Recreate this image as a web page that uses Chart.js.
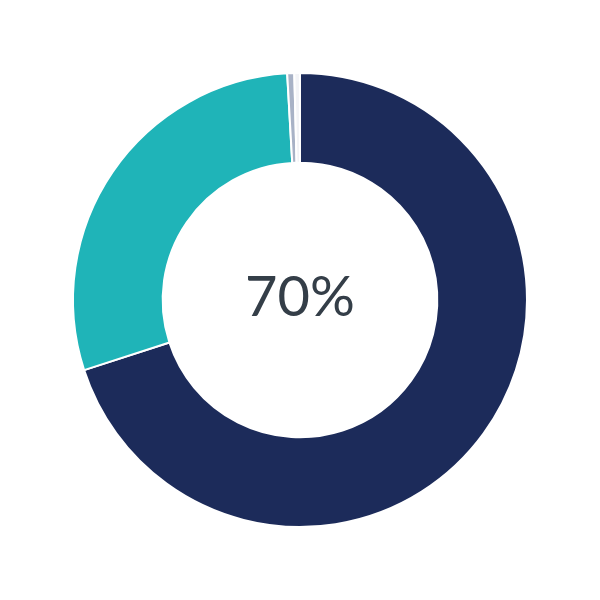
<!DOCTYPE html>
<html>
<head>
<meta charset="utf-8">
<script src="https://cdn.jsdelivr.net/npm/chart.js@4.4.0/dist/chart.umd.min.js"></script>
<style>
  html, body { margin:0; padding:0; background:#fff; }
  #wrap { position:relative; width:600px; height:600px; }
  #center { position:absolute; left:0; top:-6px; width:600px; height:600px; display:flex; align-items:center; justify-content:center;
    font-family:Lato, "Open Sans", sans-serif; font-weight:400; font-size:56px; color:#343e48; pointer-events:none; }
</style>
</head>
<body>
<div id="wrap">
  <canvas id="donut" width="600" height="600"></canvas>
  <div id="center">70%</div>
</div>
<script>
// ===== Data =====
const labels = ['Main', 'Second', 'Other', 'Rest'];
const values = [70, 29.1, 0.5, 0.4];
const colors = ['#1c2b5a', '#1fb4b8', '#a8b2c6', '#f3f4f7'];

const ctx = document.getElementById('donut').getContext('2d');
new Chart(ctx, {
  type:'doughnut',
  data:{
    labels:labels,
    datasets:[{data:values, backgroundColor:colors, borderColor:'#fff', borderWidth:2}]
  },
  options:{
    responsive:false,
    animation:false,
    cutout:'60.5%',
    layout:{padding:72},
    plugins:{legend:{display:false}, tooltip:{enabled:false}}
  }
});
</script>
</body>
</html>
